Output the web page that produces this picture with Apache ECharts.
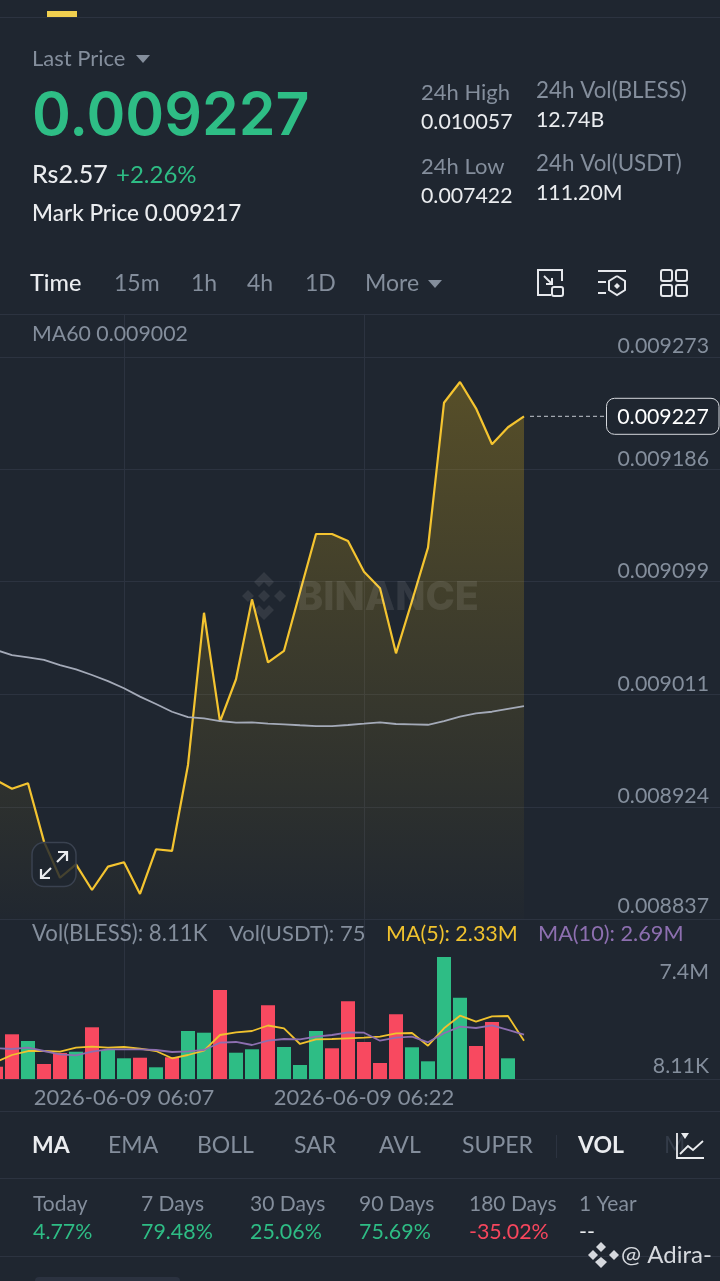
<!DOCTYPE html>
<html><head><meta charset="utf-8">
<style>html,body{margin:0;padding:0;background:#1f2630}#c{width:720px;height:1281px}</style>
<script src="https://cdn.jsdelivr.net/npm/echarts@6/dist/echarts.min.js"></script>
</head><body><div id="c"></div>
<script>
const times = ["05:59","06:00","06:01","06:02","06:03","06:04","06:05","06:06","06:07","06:08","06:09","06:10","06:11","06:12","06:13","06:14","06:15","06:16","06:17","06:18","06:19","06:20","06:21","06:22","06:23","06:24","06:25","06:26","06:27","06:28","06:29","06:30","06:31","06:32","","","","","","","","","","","",""];
const datePrefix = "2026-06-09 ";
const price = [0.0089448,0.0089381,0.0089423,0.0088970,0.0088690,0.0088794,0.0088595,0.0088776,0.0088810,0.0088564,0.0088911,0.0088898,0.0089565,0.0090746,0.0089901,0.0090230,0.0090850,0.0090361,0.0090451,0.0090907,0.0091357,0.0091357,0.0091303,0.0091064,0.0090936,0.0090431,0.0090837,0.0091251,0.0092375,0.0092536,0.0092332,0.0092053,0.0092185,0.009227];
const ma60 = [0.0090457,0.0090418,0.0090400,0.0090380,0.0090340,0.0090307,0.0090263,0.0090216,0.0090160,0.0090095,0.0090038,0.0089978,0.0089937,0.0089927,0.0089906,0.0089893,0.0089896,0.0089885,0.0089880,0.0089873,0.0089867,0.0089867,0.0089875,0.0089885,0.0089896,0.0089883,0.0089880,0.0089877,0.0089906,0.0089940,0.0089966,0.0089978,0.0090000,0.0090022];
const volume = [0.753,2.716,2.31,0.917,1.583,1.662,3.14,1.765,1.262,1.298,0.717,1.323,2.916,2.813,5.40,1.601,1.808,4.473,1.947,0.856,2.916,1.868,4.716,2.25,0.977,3.928,1.929,1.08,7.4,4.934,2.008,3.462,1.262,0.00811];
const direction = ["d","d","u","d","d","u","d","u","u","d","u","d","u","u","d","u","u","d","u","u","u","d","d","d","d","d","u","u","u","u","d","d","u","u"];
const ma5 = [1.038,1.462,1.704,1.704,1.662,1.904,1.965,1.904,1.947,1.844,1.704,1.262,1.462,1.723,2.674,2.838,2.916,3.249,3.08,2.129,2.413,2.432,2.474,2.51,2.571,2.777,2.795,2.026,3.08,3.843,3.48,3.807,3.825,2.33];
const ma10 = [1.868,1.826,1.904,1.704,1.505,1.444,1.662,1.808,1.808,1.808,1.765,1.644,1.686,1.765,2.207,2.25,2.068,2.329,2.432,2.413,2.571,2.674,2.838,2.813,2.329,2.51,2.571,2.232,2.777,3.177,3.098,3.262,2.977,2.69];
const priceTicks = [0.009273,0.009186,0.009099,0.009011,0.008924,0.008837];
const volumeTicks = [7.4,0.00811];
const lastPrice = 0.009227;
const dateTickIdx = [8,23];
const stats = [["Today","4.77%"],["7 Days","79.48%"],["30 Days","25.06%"],["90 Days","75.69%"],["180 Days","-35.02%"],["1 Year","--"]];
const tabs = ["MA","EMA","BOLL","SAR","AVL","SUPER"];

const BG="#1f2630",GRAY="#848e9c",WHITE="#eaecef",GREEN="#2ebd85",RED="#f6465d",LINE="#2c3340";
const FONT="Lato";
const TS=22, NS=21.3;
const chart = echarts.init(document.getElementById('c'),null,{renderer:'canvas'});
const g=[];
function T(text,x,y,size,fill,w,align,extra){g.push(Object.assign({type:'text',z:50,style:{text,x,y,fontSize:size,fill,fontFamily:FONT,fontWeight:w||400,align:align||'left',verticalAlign:'middle'}},extra||{}));}
function L(x1,y1,x2,y2,c,lw,z){g.push({type:'line',z:z||5,shape:{x1,y1,x2,y2},style:{stroke:c||LINE,lineWidth:lw||1}});}
function P(points,c,lw,z){g.push({type:'polyline',z:z||50,shape:{points},style:{stroke:c,lineWidth:lw||2,fill:null}});}
function F(points,c,z){g.push({type:'polygon',z:z||50,shape:{points},style:{fill:c}});}
function R(x,y,w,h,r,stroke,lw,fill,z){g.push({type:'rect',z:z||50,shape:{x,y,width:w,height:h,r},style:{stroke,lineWidth:lw||2,fill:fill||'transparent'}});}

// frame
L(0,17.5,720,17.5);L(0,314.5,720,314.5);L(0,1111.5,720,1111.5);L(0,1178.5,720,1178.5);L(0,1256.5,720,1256.5);
g.push({type:'rect',z:50,shape:{x:47,y:11,width:30,height:6},style:{fill:'#f0cf4f'}});
// header
T("Last Price",32,59,TS,GRAY);F([[136,55],[150,55],[143,63]],GRAY);
g.push({type:'text',z:50,style:{text:"0.009227",x:32,y:117,fontSize:59,fill:GREEN,fontFamily:"Inter",fontWeight:600,align:'left',verticalAlign:'middle'}});
T("Rs2.57",32,175,25,WHITE,500);T("+2.26%",116,175,24,GREEN,400);
T("Mark Price 0.009217",32,214,22.5,WHITE,500);
T("24h High",421,93,TS,GRAY);T("0.010057",421,122,NS,WHITE);
T("24h Low",421,167,TS,GRAY);T("0.007422",421,196,NS,WHITE);
T("24h Vol(BLESS)",536,91,22.4,GRAY);T("12.74B",536,120,NS,WHITE);
T("24h Vol(USDT)",536,164,22.4,GRAY);T("111.20M",536,193,NS,WHITE);
// range tabs
T("Time",30,283,23.5,WHITE,500);T("15m",114,284,23,GRAY);T("1h",191,284,23,GRAY);T("4h",247,284,23,GRAY);T("1D",305,284,23,GRAY);T("More",365,284,23,GRAY);
F([[428,280],[442,280],[435,288]],GRAY);
// icons
const IC='#e6e8ec';
P([[562,281],[562,270],[538,270],[538,295],[551,295]],IC,2);R(552,287,11,9,2,IC,2);P([[544,276],[552,284]],IC,2);P([[546,284],[552,284],[552,278]],IC,2);
L(598,271,626,271,IC,2,50);L(598,282,606,282,IC,2,50);L(598,293,606,293,IC,2,50);
P([[617,276],[625,281],[625,290],[617,295],[609,290],[609,281],[617,276]],IC,2);F([[617,283],[620,286],[617,289],[614,286]],IC);
R(661,270,11,11,2,IC,2);R(676,270,11,11,2,IC,2);R(661,285,11,11,2,IC,2);R(676,285,11,11,2,IC,2);
T("MA60 0.009002",32,334,NS,GRAY);
// watermark
const WM='rgba(255,255,255,0.09)';
F([[264,572],[274,582],[269,587],[264,582],[259,587],[254,582]],WM,6);
F([[264,590],[270,596],[264,602],[258,596]],WM,6);
F([[248,590],[254,596],[248,602],[242,596]],WM,6);
F([[280,590],[286,596],[280,602],[274,596]],WM,6);
F([[264,620],[274,610],[269,605],[264,610],[259,605],[254,610]],WM,6);
g.push({type:'text',z:6,style:{text:"BINANCE",x:297,y:598,fontSize:39.5,fill:WM,fontFamily:"Inter",fontWeight:800,align:'left',verticalAlign:'middle'}});
// expand button
R(32,842.5,44,44,12,'#3a4250',1.5,'rgba(31,38,48,0.82)',40);
P([[57,862],[67,852]],WHITE,2.2,45);P([[58,852],[67,852],[67,861]],WHITE,2.2,45);
P([[41,878],[51,868]],WHITE,2.2,45);P([[41,869],[41,878],[50,878]],WHITE,2.2,45);
// volume legend
T("Vol(BLESS): 8.11K",32,934,22.2,GRAY);T("Vol(USDT): 75",229,934,22,GRAY);
T("MA(5): 2.33M",386,934,21.5,'#f0c22e');T("MA(10): 2.69M",538,934,21.7,'#8d6fb0');
// tabs
const tabX=[32,108,197,294,379,462];
tabs.forEach((s,i)=>T(s,tabX[i],1146,23,i==0?WHITE:GRAY,i==0?700:400));
L(556.5,1135,556.5,1158,LINE,1,50);
T("VOL",578,1146,23,WHITE,700);T("M",664,1146,23,'#333b48',400);
P([[677,1133],[677,1158],[704,1158]],WHITE,1.8);P([[680,1154],[688,1146],[693,1150],[703,1141]],WHITE,1.8);F([[681,1133],[689,1133],[685,1139]],WHITE);
// stats
const statX=[33,141,250,359,469,579];
stats.forEach((s,i)=>{T(s[0],statX[i],1204,21,GRAY);T(s[1],statX[i],1232,21.4,s[1][0]=='-'&&s[1][1]!='-'?RED:(s[1]=='--'?WHITE:GREEN));});
// credit
const CR='#d5d8dd';
F([[601,1242],[606,1247],[601,1252],[596,1247]],CR,55);F([[588,1255],[593,1250],[598,1255],[593,1260]],CR,55);
F([[609,1255],[614,1250],[619,1255],[614,1260]],CR,55);F([[595,1262],[601,1268],[607,1262],[601,1257]],CR,55);
T("@ Adira-",621,1255,24,CR,400,'left',{z:55});
g.push({type:'rect',z:5,shape:{x:35,y:1277,width:145,height:8,r:4},style:{fill:'#2b3240'}});

const split={show:true,alignWithLabel:true,interval:(i)=>dateTickIdx.includes(i),lineStyle:{color:LINE,width:1}};
const tickText={color:GRAY,fontSize:NS,fontFamily:FONT};
chart.setOption({
  animation:false,backgroundColor:BG,graphic:g,
  grid:[{left:-12,width:736,top:315,height:604,outerBoundsMode:'none'},{left:-12,width:736,top:919,height:160,outerBoundsMode:'none'}],
  xAxis:[
   {type:'category',gridIndex:0,data:times,axisLine:{show:false},axisTick:{show:false},axisLabel:{show:false},splitLine:split},
   {type:'category',gridIndex:1,data:times,axisLine:{show:true,lineStyle:{color:LINE}},axisTick:{show:false},
    axisLabel:{interval:(i)=>dateTickIdx.includes(i),formatter:(v)=>datePrefix+v,color:GRAY,fontSize:TS,fontFamily:FONT,margin:8},splitLine:split}
  ],
  yAxis:[
   {type:'value',gridIndex:0,position:'right',min:0.008837,max:0.0093056,axisLine:{show:false},
    axisTick:{show:false,customValues:priceTicks},
    axisLabel:{inside:true,customValues:priceTicks,formatter:(v)=>v===priceTicks[5]?'{b|'+v.toFixed(6)+'}':v.toFixed(6),...tickText,rich:{b:{...tickText,padding:[0,0,2,0]}},margin:15,align:'right',verticalAlign:'bottom',showMinLabel:true,showMaxLabel:true,hideOverlap:false},
    splitLine:{show:true,lineStyle:{color:LINE,width:1}}},
   {type:'value',gridIndex:1,position:'right',min:0.00811,max:9.70,axisLine:{show:false},
    axisTick:{show:false,customValues:volumeTicks},splitLine:{show:false},
    axisLabel:{inside:true,customValues:volumeTicks,formatter:(v)=>v>1?'{t|7.4M}':'{k|8.11K}',...tickText,rich:{t:{...tickText,padding:[30,0,0,0]},k:{...tickText,padding:[0,0,26,0]}},margin:15,align:'right',verticalAlign:'middle',showMinLabel:true,showMaxLabel:true,hideOverlap:false}}
  ],
  series:[
   {name:'Price',type:'line',xAxisIndex:0,yAxisIndex:0,data:price,showSymbol:false,lineStyle:{color:'#f4c430',width:2.2},
    areaStyle:{origin:'start',color:{type:'linear',x:0,y:0,x2:0,y2:1,colorStops:[{offset:0,color:'rgba(240,190,20,0.38)'},{offset:1,color:'rgba(240,190,20,0.01)'}]}},z:3},
   {name:'MA60',type:'line',xAxisIndex:0,yAxisIndex:0,data:ma60,showSymbol:false,lineStyle:{color:'#a4aab8',width:1.8},z:4},
   {name:'Vol',type:'bar',xAxisIndex:1,yAxisIndex:1,data:volume,barWidth:14,itemStyle:{color:(p)=>direction[p.dataIndex]=='u'?GREEN:'#f84960'},z:2},
   {name:'MA5',type:'line',xAxisIndex:1,yAxisIndex:1,data:ma5,showSymbol:false,lineStyle:{color:'#f0c22e',width:1.8},z:3},
   {name:'MA10',type:'line',xAxisIndex:1,yAxisIndex:1,data:ma10,showSymbol:false,lineStyle:{color:'#8d6fb0',width:1.8},z:4}
  ]
});
// current-price tag placed through the axis scale
const px=chart.convertToPixel({xAxisIndex:0},times[33]);
const py=chart.convertToPixel({yAxisIndex:0},lastPrice);
const g2=[
 {type:'line',z:10,shape:{x1:px+6,y1:py,x2:606,y2:py},style:{stroke:'#c4c8d0',lineWidth:1,lineDash:[4,3]}},
 {type:'rect',z:11,shape:{x:606.5,y:py-18,width:112.5,height:36,r:8},style:{stroke:'#d5d8dd',lineWidth:1,fill:BG}},
 {type:'text',z:12,style:{text:lastPrice.toFixed(6),x:663,y:py+1,fontSize:NS,fill:'#ffffff',fontFamily:FONT,align:'center',verticalAlign:'middle'}}
];
chart.setOption({graphic:g.concat(g2)});
</script></body></html>
